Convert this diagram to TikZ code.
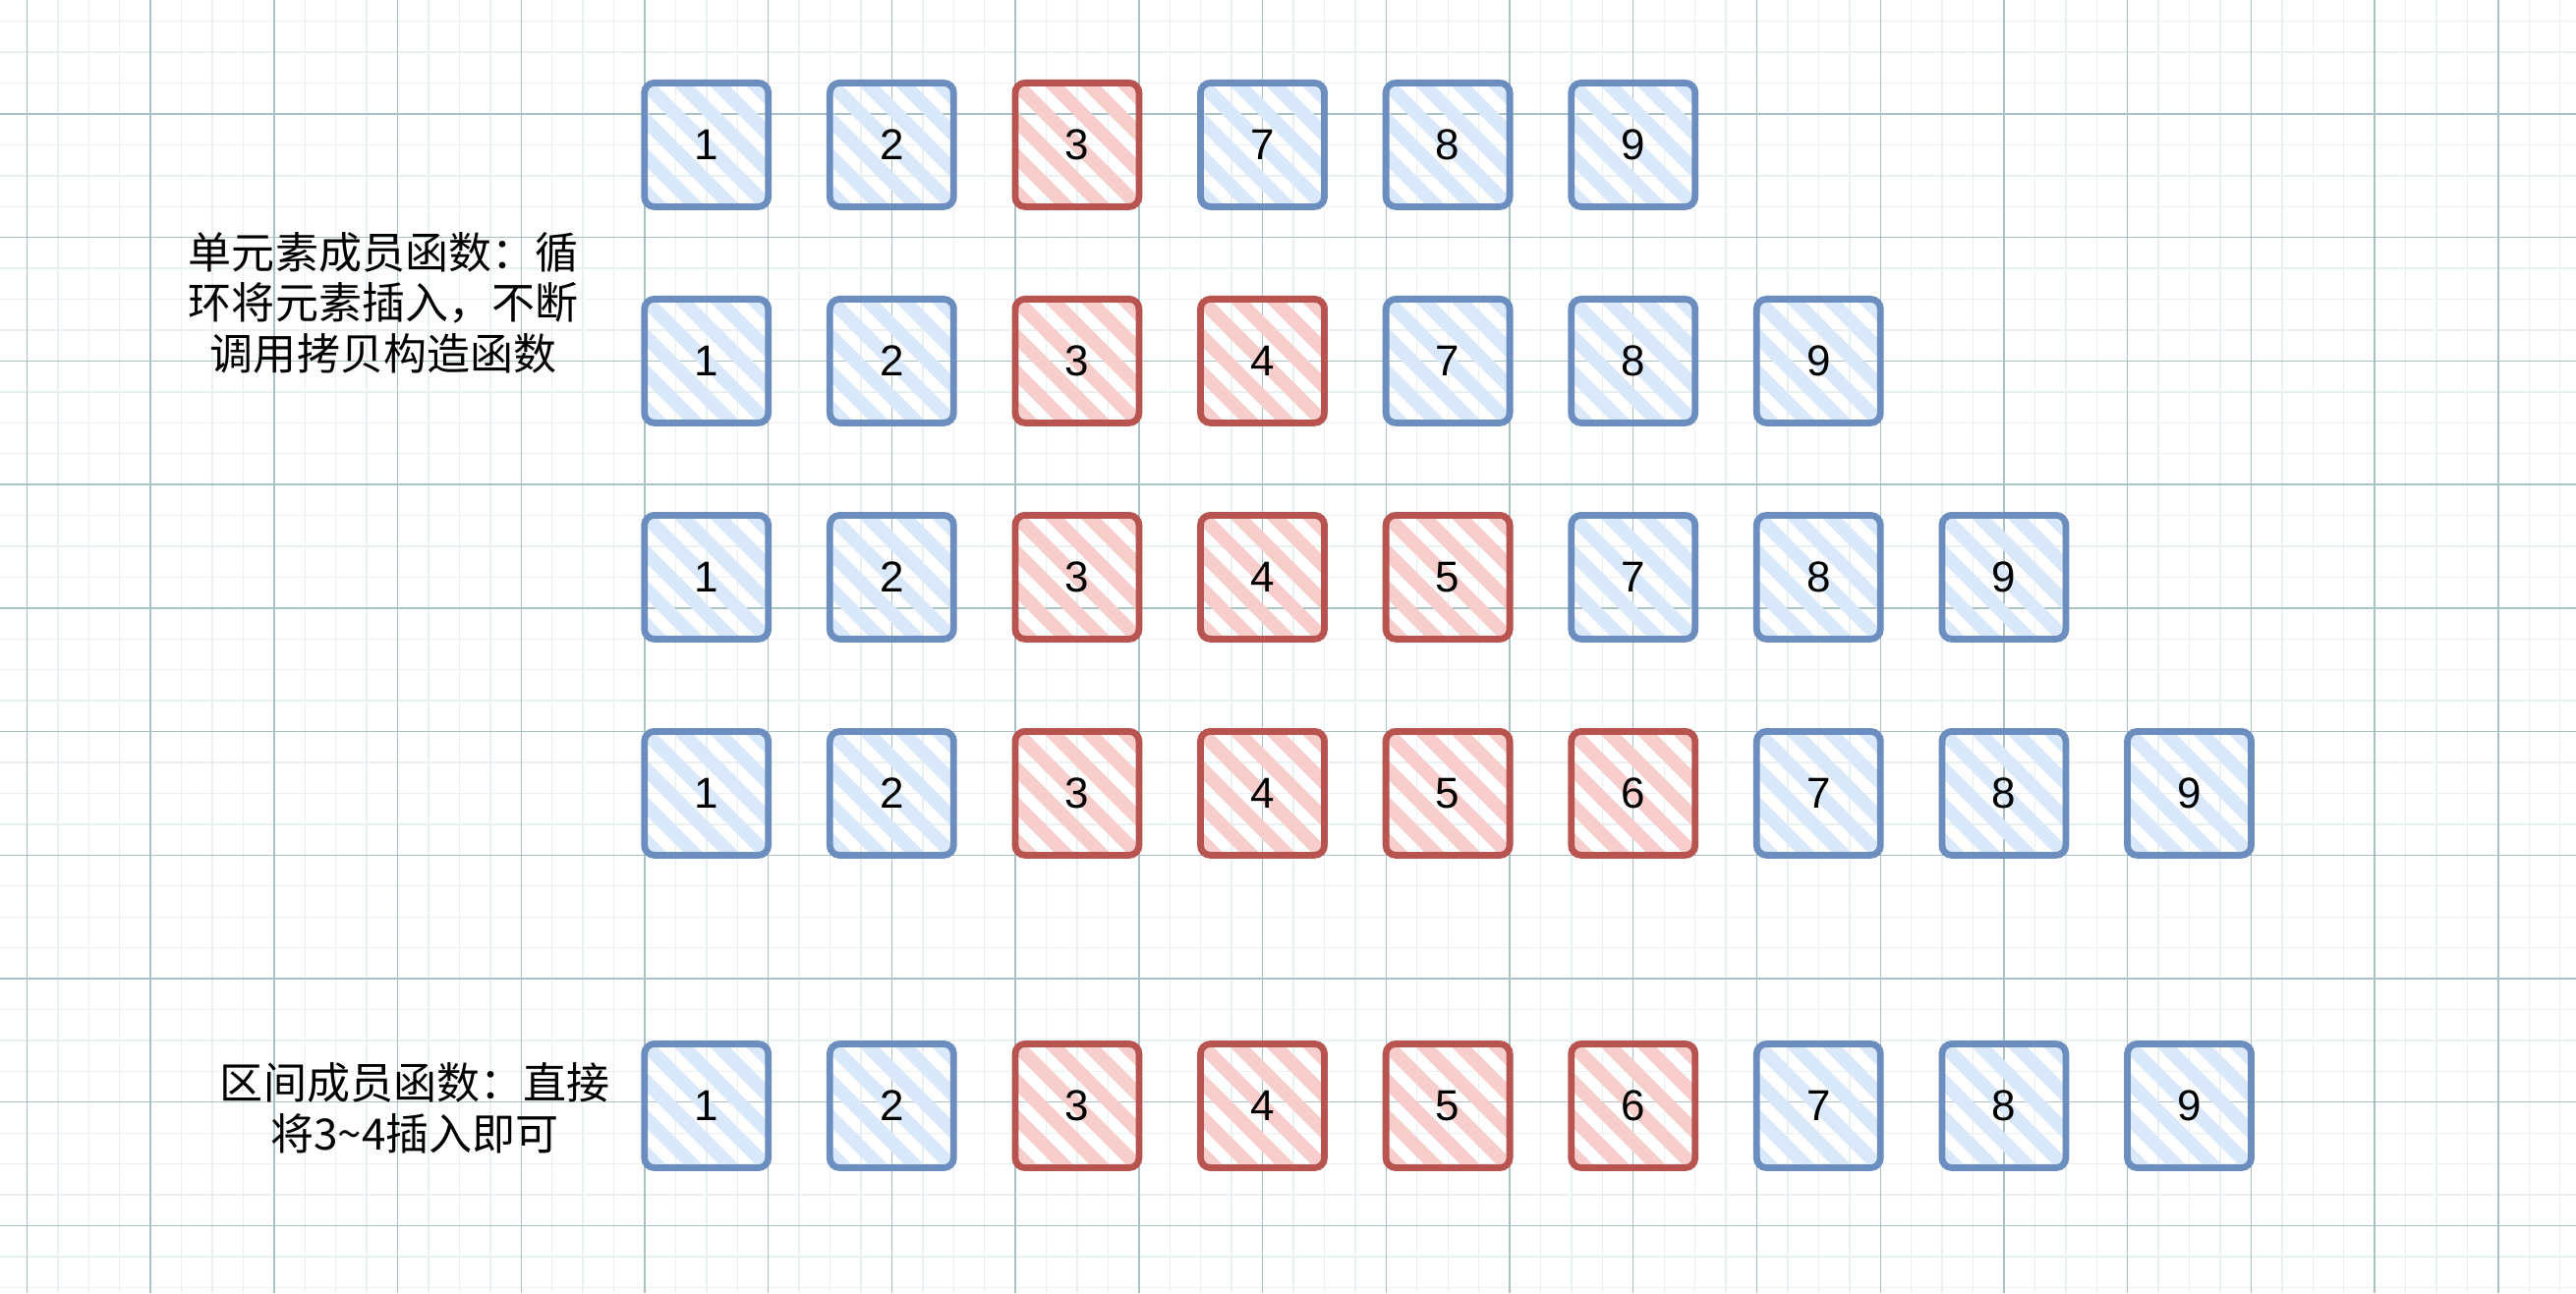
\documentclass[tikz,border=0pt]{standalone}
\usepackage{fontspec}
\setmainfont{Liberation Sans}
\newfontfamily\cjk{Noto Sans CJK SC}
\definecolor{bS}{HTML}{6C8EBF}
\definecolor{bF}{HTML}{DAE8FC}
\definecolor{rS}{HTML}{B85450}
\definecolor{rF}{HTML}{F8CECC}
\definecolor{gridminor}{RGB}{232,240,240}
\definecolor{gridmajor}{RGB}{170,194,197}
\tikzset{
  minorline/.style={gridminor, line width=0.7bp},
  majorline/.style={gridmajor, line width=0.7bp},
  cell/.style={draw=#1S, line width=3.4bp, rounded corners=5bp,
    minimum width=63bp, minimum height=63bp, inner sep=0pt,
    font=\fontsize{22bp}{26bp}\selectfont, text=black,
    path picture={
      \foreach \k in {-4,...,4} {
        \draw[#1F, line width=7bp, line cap=round]
          ([shift={({\k*9.2bp-32bp},{\k*9.2bp+32bp})}]path picture bounding box.center)
          -- ++(64bp,-64bp);
      }
    }},
  note/.style={align=center, text=black,
    font=\cjk\fontsize{22bp}{25.75bp}\selectfont}
}
\begin{document}
\begin{tikzpicture}[x=0.5bp,y=-0.5bp]
\useasboundingbox (0,0) rectangle (2621,1316);
\fill[white] (0,0) rectangle (2621,1316);
% grid
\foreach \i in {0,...,84} {
  \draw[minorline] ({-4.03+31.43*\i},0) -- ({-4.03+31.43*\i},1316);
}
\foreach \j in {0,...,42} {
  \draw[minorline] (0,{21.72+31.43*\j}) -- (2621,{21.72+31.43*\j});
}
\foreach \i in {0,...,20} {
  \draw[majorline] ({27.4+125.72*\i},0) -- ({27.4+125.72*\i},1316);
}
\foreach \j in {0,...,9} {
  \draw[majorline] (0,{116+125.72*\j}) -- (2621,{116+125.72*\j});
}
% row 1
\foreach \v/\col [count=\i from 0] in {1/b,2/b,3/r,7/b,8/b,9/b} {
  \node[cell=\col] (a\i) at ({718.7+188.6*\i},147.4) {\v};
}
% row 2
\foreach \v/\col [count=\i from 0] in {1/b,2/b,3/r,4/r,7/b,8/b,9/b} {
  \node[cell=\col] (b\i) at ({718.7+188.6*\i},367.4) {\v};
}
% row 3
\foreach \v/\col [count=\i from 0] in {1/b,2/b,3/r,4/r,5/r,7/b,8/b,9/b} {
  \node[cell=\col] (c\i) at ({718.7+188.6*\i},587.4) {\v};
}
% row 4
\foreach \v/\col [count=\i from 0] in {1/b,2/b,3/r,4/r,5/r,6/r,7/b,8/b,9/b} {
  \node[cell=\col] (d\i) at ({718.7+188.6*\i},807.4) {\v};
}
% row 5
\foreach \v/\col [count=\i from 0] in {1/b,2/b,3/r,4/r,5/r,6/r,7/b,8/b,9/b} {
  \node[cell=\col] (e\i) at ({718.7+188.6*\i},1125.5) {\v};
}
% labels
\node[note] (t1) at (390,308) {单元素成员函数：循\\环将元素插入，不断\\调用拷贝构造函数};
\node[note] (t2) at (422,1128) {区间成员函数：直接\\将3\textasciitilde 4插入即可};
\end{tikzpicture}
\end{document}
